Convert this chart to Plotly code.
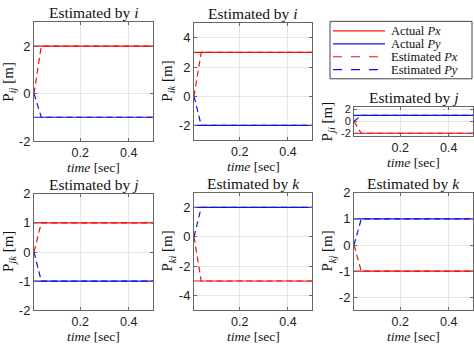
import plotly.graph_objects as go

# ---- data ----
t_act = [0.01, 0.5]
t_est = [0.01, 0.04, 0.5]
pairs = ["ij", "ik", "ji", "jk", "ki", "kj"]
estimator = ["i", "i", "j", "j", "k", "k"]
px_true = [2, 3, -2, 1, -3, -1]
py_true = [-1, -2, 1, -1, 2, 1]
est_start = [0, 0, 0, 0, 0, 0]
yranges = [[-2, 3], [-3, 5], [-2.5, 2.5], [-2, 2], [-5, 3], [-2.5, 2]]
yticks = [[-2, 0, 2], [-2, 0, 2, 4], [-2, 0, 2], [-2, -1, 0, 1, 2],
          [-4, -2, 0, 2], [-2, -1, 0, 1, 2]]
xticks = [0.2, 0.4]
legend_names = ["Actual <i>Px</i>", "Actual <i>Py</i>",
                "Estimated <i>Px</i>", "Estimated <i>Py</i>"]

W, H = 474, 350
# axes boxes in pixels: (x0, x1, y0_top, y1_bottom)
boxes = [(34, 153, 16, 140), (194, 312, 17, 139), (354, 473, 104, 135),
         (34, 153, 195, 317), (194, 312, 194, 317), (354, 473, 194, 317)]
ylab_x = [9, 168, 328, 9, 168, 328]
ytick_size = [13, 13, 11, 13, 13, 13]

SERIF = "Liberation Serif"
SANS = "Liberation Sans"
RED = "#f01010"
BLUE = "#1010e0"
DASH = "6px,4px"
LW = 1.2
styles = [(RED, "solid"), (BLUE, "solid"), (RED, DASH), (BLUE, DASH)]

fig = go.Figure()
annotations = []
shapes = []
for k in range(6):
    x0, x1, yt, yb = boxes[k]
    ax = "" if k == 0 else str(k + 1)
    xa, ya = "x" + ax, "y" + ax
    series = [(t_act, [px_true[k]] * 2), (t_act, [py_true[k]] * 2),
              (t_est, [est_start[k], px_true[k], px_true[k]]),
              (t_est, [est_start[k], py_true[k], py_true[k]])]
    for (tx, ty), (col, dsh), nm in zip(series, styles, legend_names):
        fig.add_trace(go.Scatter(x=tx, y=ty, mode="lines",
                                 line=dict(color=col, width=LW, dash=dsh), name=nm,
                                 showlegend=False, xaxis=xa, yaxis=ya))
    axcommon = dict(showline=True, linecolor="#666666", linewidth=1, mirror="ticks",
                    ticks="inside", ticklen=3, tickcolor="#666666",
                    showgrid=True, gridcolor="#e6e6e6", zeroline=False)
    fig.layout["xaxis" + ax] = dict(domain=[x0 / W, x1 / W], range=[0.01, 0.5],
                                    tickvals=xticks, ticktext=[str(v) for v in xticks],
                                    tickfont=dict(family=SANS, size=12.5, color="#222222"),
                                    anchor=ya, **axcommon)
    fig.layout["yaxis" + ax] = dict(domain=[1 - yb / H, 1 - yt / H], range=yranges[k],
                                    tickvals=yticks[k], ticktext=[str(v) for v in yticks[k]],
                                    tickfont=dict(family=SANS, size=ytick_size[k], color="#222222"),
                                    anchor=xa, **axcommon)
    cx = (x0 + x1) / 2 / W
    annotations.append(dict(text="Estimated by <i>%s</i>" % estimator[k], x=cx,
                            y=1 - yt / H, xref="paper", yref="paper",
                            xanchor="center", yanchor="bottom", showarrow=False, borderpad=0,
                            font=dict(family=SERIF, size=15.5, color="#111111")))
    annotations.append(dict(text="<i>time</i> [sec]", x=cx, y=1 - (yb + 18.5) / H,
                            xref="paper", yref="paper", xanchor="center", yanchor="top",
                            showarrow=False, borderpad=0,
                            font=dict(family=SERIF, size=13.5, color="#111111")))
    annotations.append(dict(text="P<sub><i>%s</i></sub> [m]" % pairs[k], x=ylab_x[k] / W,
                            y=1 - (yt + yb) / 2 / H, xref="paper", yref="paper",
                            xanchor="center", yanchor="middle", textangle=-90,
                            showarrow=False, font=dict(family=SERIF, size=15, color="#111111")))

# legend box (custom, to get the compact row spacing)
lg_x0, lg_x1, lg_y0, lg_y1 = 330, 472, 15, 75
shapes.append(dict(type="rect", xref="paper", yref="paper",
                   x0=lg_x0 / W, x1=lg_x1 / W, y0=1 - lg_y1 / H, y1=1 - lg_y0 / H,
                   line=dict(color="#444444", width=1), fillcolor="white"))
row_y = [25, 38.5, 52, 65.5]
for (col, dsh), nm, ry in zip(styles, legend_names, row_y):
    shapes.append(dict(type="line", xref="paper", yref="paper",
                       x0=333 / W, x1=385 / W, y0=1 - ry / H, y1=1 - ry / H,
                       line=dict(color=col, width=LW, dash="dash" if dsh != "solid" else "solid")))
    annotations.append(dict(text=nm, x=389 / W, y=1 - ry / H, xref="paper", yref="paper",
                            xanchor="left", yanchor="middle", showarrow=False,
                            font=dict(family=SERIF, size=12.5, color="#111111")))

fig.update_layout(
    width=W, height=H, margin=dict(l=0, r=0, t=0, b=0),
    paper_bgcolor="white", plot_bgcolor="white",
    annotations=annotations, shapes=shapes, showlegend=False,
)
fig.write_html("out.html")
